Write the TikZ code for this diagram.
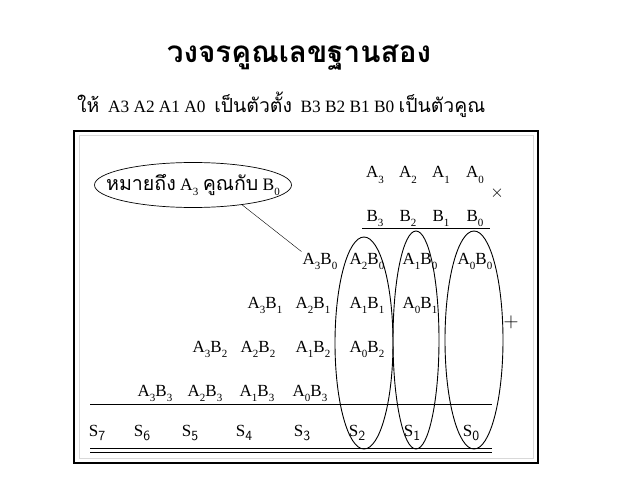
\documentclass[tikz,border=0pt]{standalone}
\usepackage{fontspec}
\setmainfont{Liberation Serif}
\newfontfamily\thaifont[Script=Thai, Scale=1.12]{Loma}
\usetikzlibrary{shapes.geometric}

\newcommand{\sub}[1]{\raisebox{-0.3em}{\fontsize{11}{12}\selectfont #1}}
\newcommand{\ab}[2]{A\sub{#1}B\sub{#2}}
\newcommand{\sbit}[1]{S\raisebox{-0.25em}{\fontsize{14}{16}\selectfont\sffamily #1}}

\begin{document}
\begin{tikzpicture}[x=1pt, y=-1pt, every node/.style={inner sep=1pt}]
             \useasboundingbox (0,0) rectangle (630,495);
             % title
             \node (title) at (299,58) {\thaifont\bfseries\fontsize{26.5}{30}\selectfont วงจรคูณเลขฐานสอง};
             \node[anchor=west] (given) at (76,105) {\fontsize{17.3}{21}\selectfont{\thaifont ให้}~~A3 A2 A1 A0~~{\thaifont เป็นตัวตั้ง}~~B3 B2 B1 B0 {\thaifont เป็นตัวคูณ}};
             % frame
             \draw [line width=1.6pt](74,131) rectangle (538,463);
             \draw [black!15, line width=1pt](79,136) rectangle (533,458);
             \begin{scope}[every node/.style={inner sep=1pt, anchor=base, font=\fontsize{17}{20}\selectfont}]
             % multiplicand and multiplier
             \node (a3) at (375,178) {A\sub{3}};
             \node (a2) at (408,178) {A\sub{2}};
             \node (a1) at (441,178) {A\sub{1}};
             \node (a0) at (475,178) {A\sub{0}};
             \node (times) at (497,197) {$\times$};
             \node (b3) at (375,221) {B\sub{3}};
             \node (b2) at (408,221) {B\sub{2}};
             \node (b1) at (441,221) {B\sub{1}};
             \node (b0) at (475,221) {B\sub{0}};
             \draw [line width=0.7pt](362,228) -- (490,228);
             % partial products
             \node (a3b0) at (320,264) {\ab{3}{0}};
             \node (a2b0) at (367,264) {\ab{2}{0}};
             \node (a1b0) at (420,264) {\ab{1}{0}};
             \node (a0b0) at (475,264) {\ab{0}{0}};
             \node (a3b1) at (265,308) {\ab{3}{1}};
             \node (a2b1) at (313,308) {\ab{2}{1}};
             \node (a1b1) at (367,308) {\ab{1}{1}};
             \node (a0b1) at (420,308) {\ab{0}{1}};
             \node (a3b2) at (210,352) {\ab{3}{2}};
             \node (a2b2) at (258,352) {\ab{2}{2}};
             \node (a1b2) at (313,352) {\ab{1}{2}};
             \node (a0b2) at (367,352) {\ab{0}{2}};
             \node (a3b3) at (155,396) {\ab{3}{3}};
             \node (a2b3) at (205,396) {\ab{2}{3}};
             \node (a1b3) at (257,396) {\ab{1}{3}};
             \node (a0b3) at (310,396) {\ab{0}{3}};
             \node (plus) at (511,327) {\fontsize{20}{22}\selectfont$+$};
             \draw [line width=0.7pt](90,404) -- (492,404);
             % sum bits
             \node (s7) at (97,436) {\sbit{7}};
             \node (s6) at (142,436) {\sbit{6}};
             \node (s5) at (190,436) {\sbit{5}};
             \node (s4) at (244,436) {\sbit{4}};
             \node (s3) at (302,436) {\sbit{3}};
             \node (s2) at (357,436) {\sbit{2}};
             \node (s1) at (412,436) {\sbit{1}};
             \node (s0) at (471,436) {\sbit{0}};
             \draw [line width=0.7pt](90,448) -- (492,448);
             \draw [line width=0.7pt](90,452) -- (492,452);
             \end{scope}
             % column groups
             \draw [line width=0.9pt](364,343) ellipse [x radius=29pt, y radius=106pt];
             \draw [line width=0.9pt](416,340) ellipse [x radius=23pt, y radius=109pt];
             \draw [line width=0.9pt](474,340) ellipse [x radius=29pt, y radius=109pt];
             % callout
             \node [draw, line width=0.7pt, ellipse, minimum width=197pt, minimum height=45pt, inner xsep=-20pt, inner ysep=0pt](note) at (193,185) {\fontsize{17.5}{20}\selectfont{\thaifont หมายถึง} A\sub{3} {\thaifont คูณกับ} B\sub{0}};
             \draw (note.-22) -- (a3b0.north west);
         \end{tikzpicture}
\end{document}
